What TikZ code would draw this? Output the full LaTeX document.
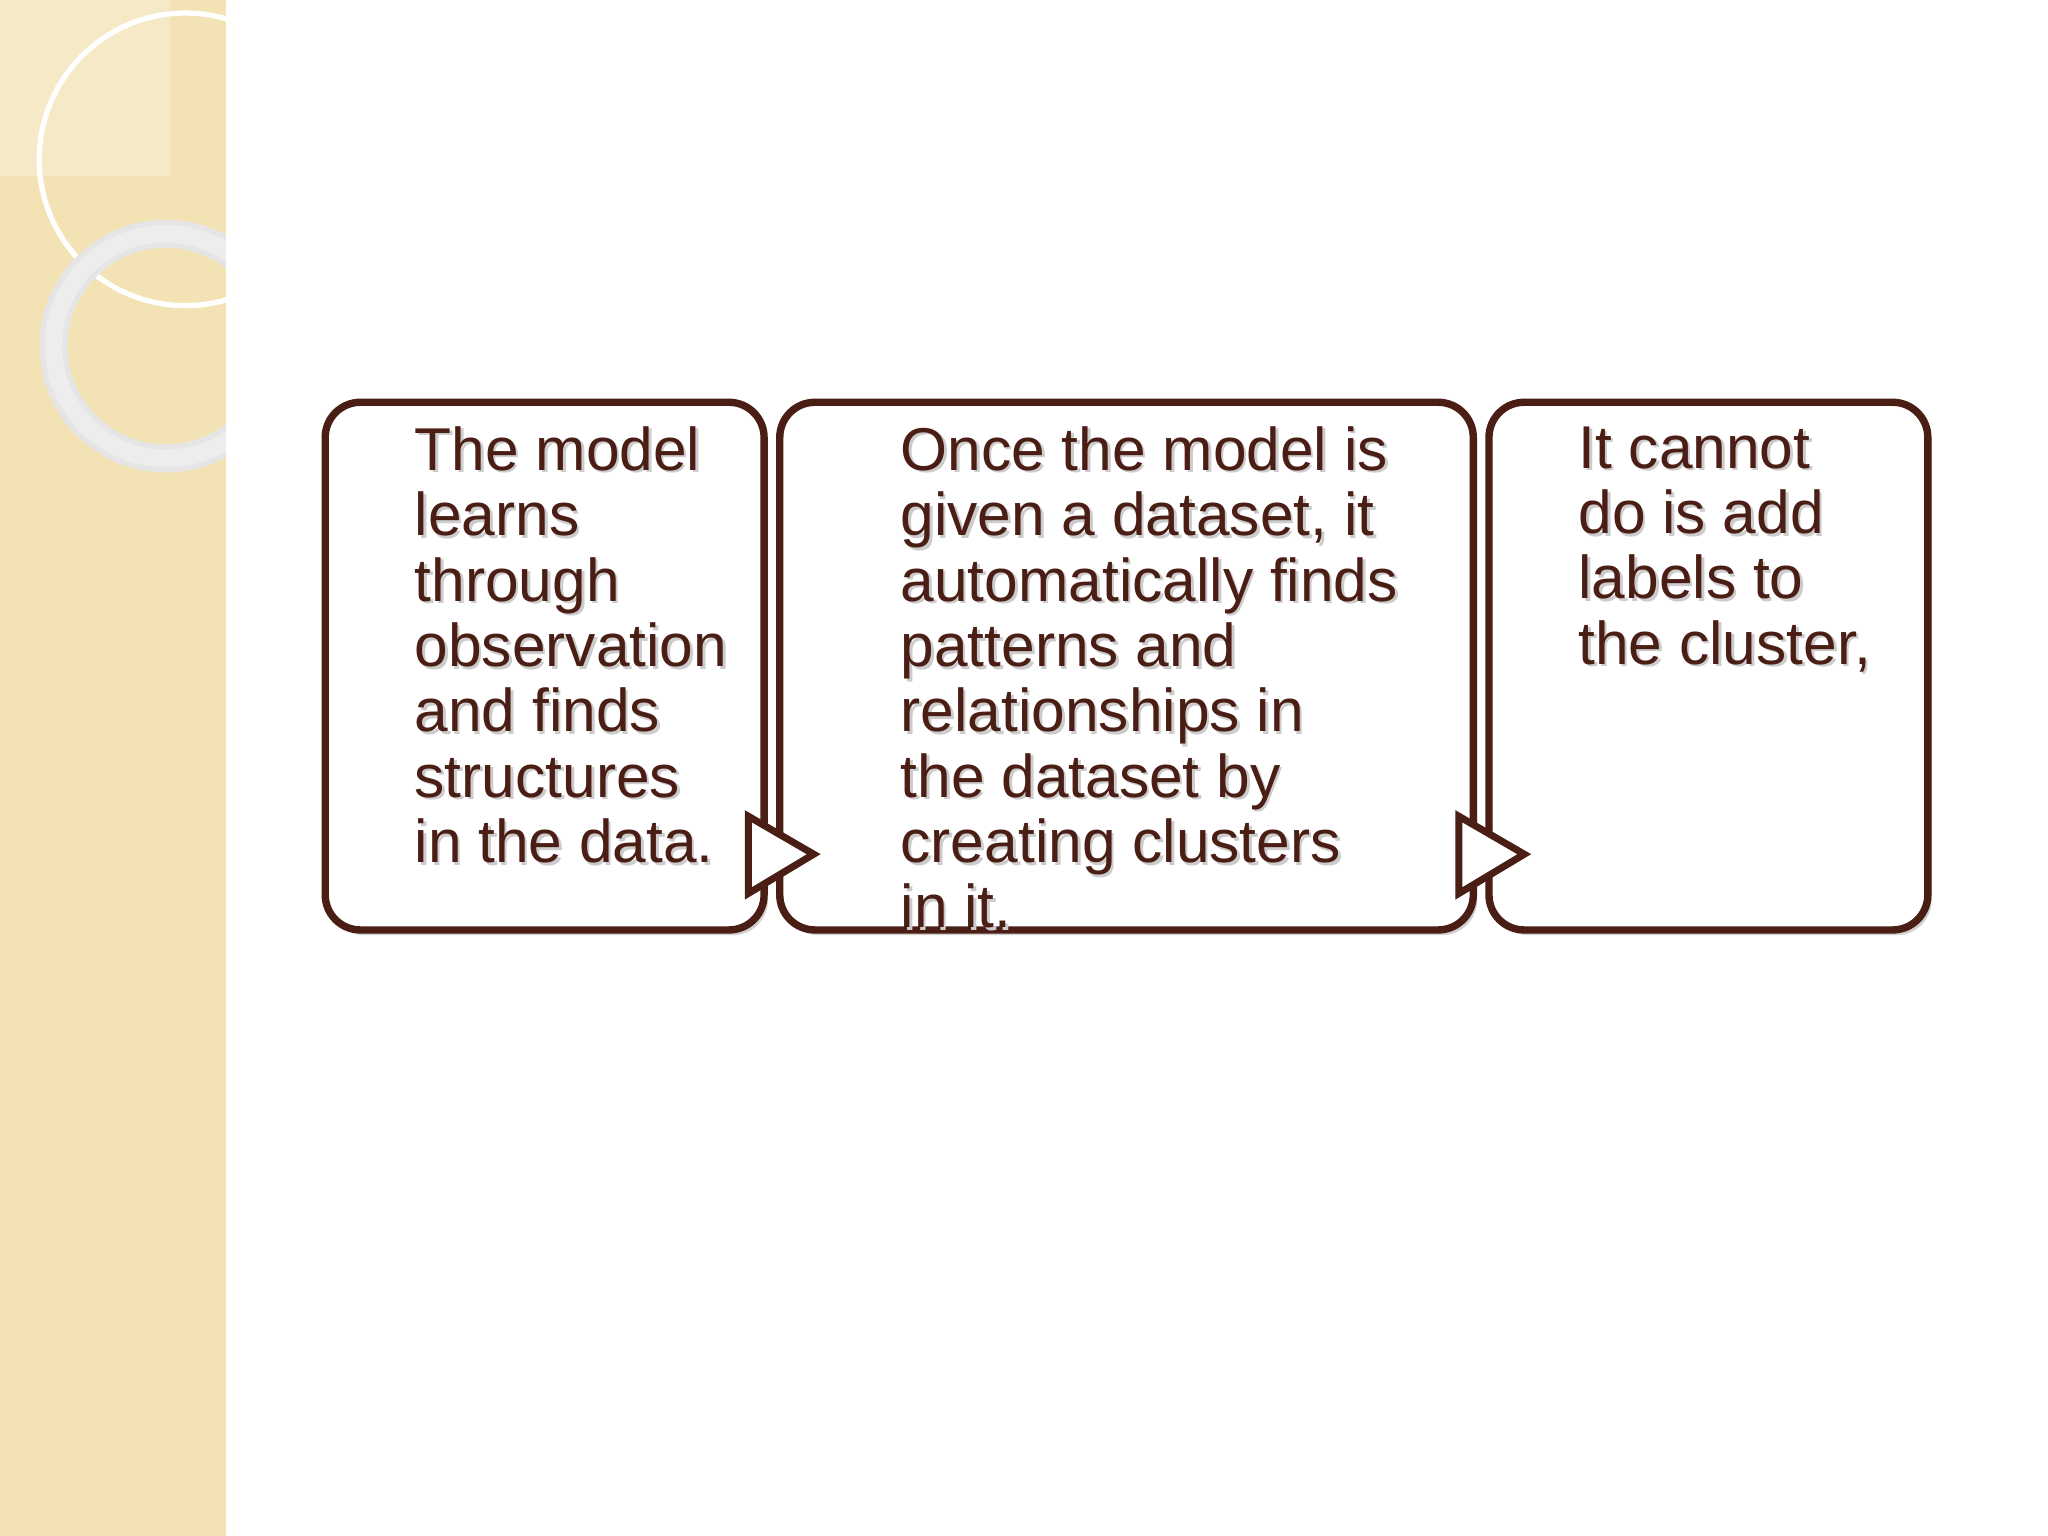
\documentclass[tikz,border=0pt]{standalone}
\usepackage{fontspec}
\setmainfont{Liberation Sans}
\definecolor{brn}{HTML}{4A1E14}
\definecolor{beige}{HTML}{F3E2B4}
\begin{document}
\begin{tikzpicture}[x=0.013061cm,y=-0.013061cm,
  box/.style={draw=brn,line width=2.1pt,rounded corners=10pt,fill=white},
  shd/.style={fill=black!18,rounded corners=10pt},
  txt/.style={anchor=north west,inner sep=0pt,align=left,text=brn,font=\fontsize{17.2}{18.6}\selectfont},
  txs/.style={anchor=north west,inner sep=0pt,align=left,text=black!20,font=\fontsize{17.2}{18.6}\selectfont},
  tri/.style={draw=brn,line width=2pt,fill=white,line join=miter}]
\useasboundingbox (0,0) rectangle (1568,1176);
\fill[white] (0,0) rectangle (1568,1176);
\fill[beige] (0,0) rectangle (173,1176);
\fill[white,opacity=0.25] (0,0) rectangle (130,135);
\begin{scope}
\clip (0,0) rectangle (173,1176);
\draw[white,line width=1.5pt] (142,122) circle (112);
\draw[black!10,line width=8pt] (127,265) circle (86);
\draw[white!93!black,line width=5pt] (127,265) circle (86);
\end{scope}
\fill[shd] (252,312) rectangle (588,716);
\fill[shd] (600,312) rectangle (1131,716);
\fill[shd] (1143,312) rectangle (1479,716);
\draw[box] (249,308) rectangle (585,712);
\draw[box] (597,308) rectangle (1128,712);
\draw[box] (1140,308) rectangle (1476,712);
\node[txs] (s1) at (319,328) {The model\\learns\\through\\observation\\and finds\\structures\\in the data.};
\node[txt] (t1) at (317,326) {The model\\learns\\through\\observation\\and finds\\structures\\in the data.};
\node[txs] (s2) at (691,328) {Once the model is\\given a dataset, it\\automatically finds\\patterns and\\relationships in\\the dataset by\\creating clusters\\in it.};
\node[txt] (t2) at (689,326) {Once the model is\\given a dataset, it\\automatically finds\\patterns and\\relationships in\\the dataset by\\creating clusters\\in it.};
\node[txs] (s3) at (1210,328) {It cannot\\do is add\\labels to\\the cluster,};
\node[txt] (t3) at (1208,326) {It cannot\\do is add\\labels to\\the cluster,};
\draw[tri] (573,625) -- (623,654) -- (573,684) -- cycle;
\draw[tri] (1117,625) -- (1167,654) -- (1117,684) -- cycle;
\end{tikzpicture}
\end{document}
